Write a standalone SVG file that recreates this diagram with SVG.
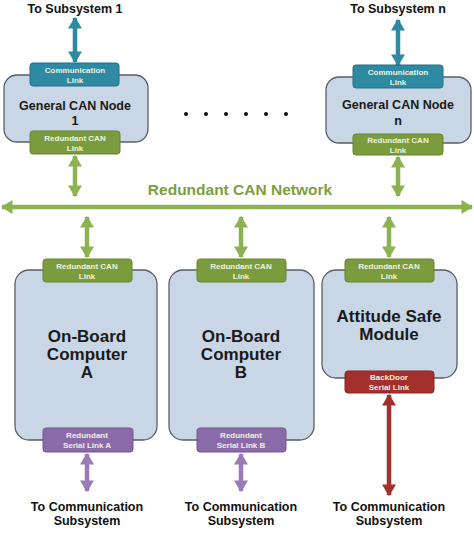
<svg xmlns="http://www.w3.org/2000/svg" width="474" height="533" viewBox="0 0 474 533">
<style>
text{font-family:"Liberation Sans",Arial,sans-serif;font-weight:bold;text-anchor:middle}
.box{fill:#c8d6e6;stroke:#5a5f66;stroke-width:1.3}
.tabt{fill:#eef3e0;font-size:8px}
.ttl{fill:#1a1a1a;font-size:12.5px}
.big{fill:#1a1a1a;font-size:17px}
.lbl{fill:#111;font-size:12.5px}
.teal{fill:#2e8aa2;stroke:#236f85}
.green{fill:#7b9c3c;stroke:#66852e}
.purple{fill:#8b6aa9;stroke:#74568f}
.red{fill:#a3302d;stroke:#872422}
</style>
<defs>
<marker id="hT" viewBox="0 0 10 12" refX="9" refY="6" markerWidth="2.6" markerHeight="3.2" orient="auto-start-reverse" markerUnits="strokeWidth"><path d="M0,0L10,6L0,12z" fill="#2e8aa2"/></marker>
<marker id="hG" viewBox="0 0 10 12" refX="9" refY="6" markerWidth="2.6" markerHeight="3.2" orient="auto-start-reverse" markerUnits="strokeWidth"><path d="M0,0L10,6L0,12z" fill="#8cb252"/></marker>
<marker id="hP" viewBox="0 0 10 12" refX="9" refY="6" markerWidth="2.6" markerHeight="3.2" orient="auto-start-reverse" markerUnits="strokeWidth"><path d="M0,0L10,6L0,12z" fill="#9a7bb8"/></marker>
<marker id="hR" viewBox="0 0 10 12" refX="9" refY="6" markerWidth="2.6" markerHeight="3.2" orient="auto-start-reverse" markerUnits="strokeWidth"><path d="M0,0L10,6L0,12z" fill="#a3302d"/></marker>
</defs>

<g id="connectors" fill="none">
<line x1="75" y1="18" x2="75" y2="62" stroke="#2e8aa2" stroke-width="4.5" marker-start="url(#hT)" marker-end="url(#hT)"/>
<line x1="398" y1="20" x2="398" y2="65" stroke="#2e8aa2" stroke-width="4.5" marker-start="url(#hT)" marker-end="url(#hT)"/>
<line x1="75" y1="156" x2="75" y2="196" stroke="#8cb252" stroke-width="4.5" marker-start="url(#hG)" marker-end="url(#hG)"/>
<line x1="398" y1="157" x2="398" y2="196" stroke="#8cb252" stroke-width="4.5" marker-start="url(#hG)" marker-end="url(#hG)"/>
<line x1="2" y1="207" x2="472" y2="207" stroke="#8cb252" stroke-width="4.5" marker-start="url(#hG)" marker-end="url(#hG)"/>
<line x1="87" y1="217" x2="87" y2="257" stroke="#8cb252" stroke-width="4.5" marker-start="url(#hG)" marker-end="url(#hG)"/>
<line x1="241" y1="217" x2="241" y2="257" stroke="#8cb252" stroke-width="4.5" marker-start="url(#hG)" marker-end="url(#hG)"/>
<line x1="389" y1="217" x2="389" y2="257" stroke="#8cb252" stroke-width="4.5" marker-start="url(#hG)" marker-end="url(#hG)"/>
<line x1="87" y1="454" x2="87" y2="491" stroke="#9a7bb8" stroke-width="4.5" marker-start="url(#hP)" marker-end="url(#hP)"/>
<line x1="241" y1="454" x2="241" y2="491" stroke="#9a7bb8" stroke-width="4.5" marker-start="url(#hP)" marker-end="url(#hP)"/>
<line x1="389" y1="395" x2="389" y2="495" stroke="#a3302d" stroke-width="4.5" marker-start="url(#hR)" marker-end="url(#hR)"/>
</g>

<g id="labels">
<text class="lbl" x="75" y="13">To Subsystem 1</text>
<text class="lbl" x="398" y="13">To Subsystem n</text>
<text x="240" y="195" style="fill:#7d9e3e;font-size:15.5px">Redundant CAN Network</text>
<text class="lbl" x="87" y="511">To Communication</text>
<text class="lbl" x="87" y="525">Subsystem</text>
<text class="lbl" x="241" y="511">To Communication</text>
<text class="lbl" x="241" y="525">Subsystem</text>
<text class="lbl" x="389" y="511">To Communication</text>
<text class="lbl" x="389" y="525">Subsystem</text>
</g>

<g id="dots" fill="#111">
<circle cx="186" cy="114" r="2"/><circle cx="206" cy="114" r="2"/><circle cx="226" cy="114" r="2"/>
<circle cx="246" cy="114" r="2"/><circle cx="266" cy="114" r="2"/><circle cx="286" cy="114" r="2"/>
</g>

<g id="node1">
<rect class="box" x="4" y="75" width="144" height="67" rx="13"/>
<text class="ttl" x="75" y="110">General CAN Node</text>
<text class="ttl" x="75" y="125">1</text>
<rect class="teal" x="30" y="63" width="89" height="23" rx="3"/>
<text class="tabt" x="75" y="73">Communication</text>
<text class="tabt" x="75" y="83">Link</text>
<rect class="green" x="30" y="131" width="90" height="23" rx="3"/>
<text class="tabt" x="75" y="141">Redundant CAN</text>
<text class="tabt" x="75" y="151">Link</text>
</g>

<g id="noden">
<rect class="box" x="326" y="77" width="145" height="66" rx="13"/>
<text class="ttl" x="398" y="109">General CAN Node</text>
<text class="ttl" x="398" y="125">n</text>
<rect class="teal" x="353" y="65" width="90" height="23" rx="3"/>
<text class="tabt" x="398" y="75">Communication</text>
<text class="tabt" x="398" y="85">Link</text>
<rect class="green" x="353" y="134" width="90" height="21" rx="3"/>
<text class="tabt" x="398" y="143">Redundant CAN</text>
<text class="tabt" x="398" y="153">Link</text>
</g>

<g id="obcA">
<rect class="box" x="15" y="270" width="142" height="170" rx="14"/>
<text class="big" x="87" y="342">On-Board</text>
<text class="big" x="87" y="360">Computer</text>
<text class="big" x="87" y="378">A</text>
<rect class="green" x="43" y="259" width="89" height="23" rx="3"/>
<text class="tabt" x="87" y="269">Redundant CAN</text>
<text class="tabt" x="87" y="279">Link</text>
<rect class="purple" x="43" y="428" width="90" height="24" rx="3"/>
<text class="tabt" x="87" y="438">Redundant</text>
<text class="tabt" x="87" y="448">Serial Link A</text>
</g>

<g id="obcB">
<rect class="box" x="169" y="270" width="145" height="170" rx="14"/>
<text class="big" x="241" y="342">On-Board</text>
<text class="big" x="241" y="360">Computer</text>
<text class="big" x="241" y="378">B</text>
<rect class="green" x="197" y="259" width="89" height="23" rx="3"/>
<text class="tabt" x="241" y="269">Redundant CAN</text>
<text class="tabt" x="241" y="279">Link</text>
<rect class="purple" x="197" y="428" width="89" height="24" rx="3"/>
<text class="tabt" x="241" y="438">Redundant</text>
<text class="tabt" x="241" y="448">Serial Link B</text>
</g>

<g id="asm">
<rect class="box" x="322" y="270" width="135" height="108" rx="14"/>
<text class="big" x="389" y="322">Attitude Safe</text>
<text class="big" x="389" y="340">Module</text>
<rect class="green" x="345" y="259" width="89" height="23" rx="3"/>
<text class="tabt" x="389" y="269">Redundant CAN</text>
<text class="tabt" x="389" y="279">Link</text>
<rect class="red" x="345" y="371" width="89" height="22" rx="3"/>
<text class="tabt" x="389" y="380">BackDoor</text>
<text class="tabt" x="389" y="390">Serial Link</text>
</g>
</svg>
